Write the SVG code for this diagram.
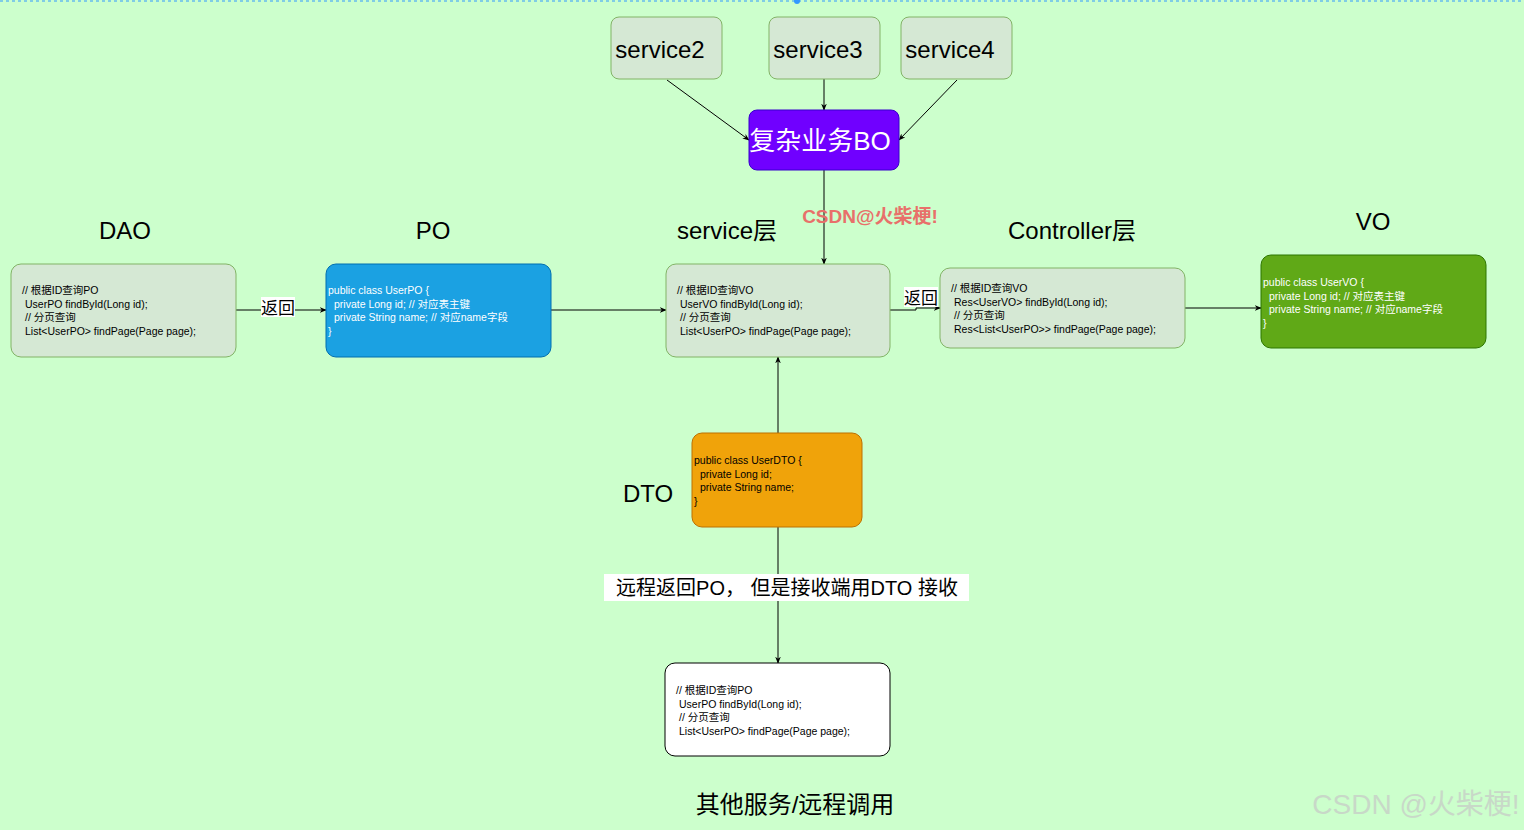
<svg xmlns="http://www.w3.org/2000/svg" width="1524" height="830" viewBox="0 0 1524 830">
<defs>
<marker id="a" viewBox="0 0 10 10" refX="9" refY="5" markerWidth="7" markerHeight="7" orient="auto"><path d="M0,1 L10,5 L0,9 L3,5 Z" fill="#000"/></marker>
<style>
text{font-family:"Liberation Sans","Noto Sans CJK SC",sans-serif}
.g{fill:#d5e8d4;stroke:#82b366;stroke-width:1}
.c{font-size:10.5px}
.w{fill:#fff}
.l{font-size:24px;text-anchor:middle}
.e{stroke:#000;stroke-width:1;fill:none;marker-end:url(#a)}
</style>
</defs>
<rect width="1524" height="830" fill="#ccffcc"/>
<line x1="0" y1="1" x2="1524" y2="1" stroke="#3399ff" stroke-dasharray="3,3"/>
<circle cx="797" cy="1" r="3" fill="#3399ff"/>
<g id="connectors">
<path class="e" d="M667,80 L749,140"/>
<path class="e" d="M824,79 L824,110"/>
<path class="e" d="M957,80 L899,140"/>
<path class="e" d="M824,170 L824,264"/>
<path class="e" d="M236,310 L326,310"/>
<path class="e" d="M551,310 L666,310"/>
<path class="e" d="M890,310 L916,310 L916,308 L940,308"/>
<path class="e" d="M1185,308 L1261,308"/>
<path class="e" d="M778,433 L778,357"/>
<path class="e" d="M778,527 L778,663"/>
<rect x="261" y="297" width="34" height="20" fill="#fff"/>
<text x="278" y="314" font-size="17" text-anchor="middle">返回</text>
<rect x="904" y="287" width="34" height="20" fill="#fff"/>
<text x="921" y="304" font-size="17" text-anchor="middle">返回</text>
<rect x="604" y="574" width="365" height="27" fill="#fff"/>
<text x="787" y="595" font-size="20" text-anchor="middle">远程返回PO， 但是接收端用DTO 接收</text>
</g>
<g id="service2"><rect class="g" x="611" y="17" width="111" height="62" rx="8"/><text x="660" y="58" font-size="24" text-anchor="middle">service2</text></g>
<g id="service3"><rect class="g" x="769" y="17" width="111" height="62" rx="8"/><text x="818" y="58" font-size="24" text-anchor="middle">service3</text></g>
<g id="service4"><rect class="g" x="901" y="17" width="111" height="62" rx="8"/><text x="950" y="58" font-size="24" text-anchor="middle">service4</text></g>
<g id="bo"><rect x="749" y="110" width="150" height="60" rx="8" fill="#7000ff" stroke="#3700cc"/><text x="820" y="150" font-size="26" fill="#fff" text-anchor="middle">复杂业务BO</text></g>
<g id="labels">
<text class="l" x="125" y="239">DAO</text>
<text class="l" x="433" y="239">PO</text>
<text class="l" x="727" y="239">service层</text>
<text class="l" x="1072" y="239">Controller层</text>
<text class="l" x="1373" y="230">VO</text>
<text class="l" x="648" y="502">DTO</text>
<text x="795" y="813" font-size="24" text-anchor="middle">其他服务/远程调用</text>
<text x="870" y="223" font-size="19" font-weight="bold" fill="#e8706a" text-anchor="middle">CSDN@火柴梗!</text>
<text x="1416" y="814" font-size="28" fill="#c8d8c8" text-anchor="middle">CSDN @火柴梗!</text>
</g>
<g id="dao"><rect class="g" x="11" y="264" width="225" height="93" rx="10"/>
<text class="c" x="22" y="294">// 根据ID查询PO<tspan x="25" dy="13.5">UserPO findById(Long id);</tspan><tspan x="25" dy="13.5">// 分页查询</tspan><tspan x="25" dy="13.5">List&lt;UserPO&gt; findPage(Page page);</tspan></text></g>
<g id="po"><rect x="326" y="264" width="225" height="93" rx="10" fill="#1ba1e2" stroke="#006eaf"/>
<text class="c w" x="328" y="294">public class UserPO {<tspan x="334" dy="13.5">private Long id;      // 对应表主键</tspan><tspan x="334" dy="13.5">private String name;  // 对应name字段</tspan><tspan x="328" dy="13.5">}</tspan></text></g>
<g id="service"><rect class="g" x="666" y="264" width="224" height="93" rx="10"/>
<text class="c" x="677" y="294">// 根据ID查询VO<tspan x="680" dy="13.5">UserVO findById(Long id);</tspan><tspan x="680" dy="13.5">// 分页查询</tspan><tspan x="680" dy="13.5">List&lt;UserPO&gt; findPage(Page page);</tspan></text></g>
<g id="controller"><rect class="g" x="940" y="268" width="245" height="80" rx="10"/>
<text class="c" x="951" y="292">// 根据ID查询VO<tspan x="954" dy="13.5">Res&lt;UserVO&gt; findById(Long id);</tspan><tspan x="954" dy="13.5">// 分页查询</tspan><tspan x="954" dy="13.5">Res&lt;List&lt;UserPO&gt;&gt; findPage(Page page);</tspan></text></g>
<g id="vo"><rect x="1261" y="255" width="225" height="93" rx="10" fill="#60a917" stroke="#2d7600"/>
<text class="c w" x="1263" y="286">public class UserVO {<tspan x="1269" dy="13.5">private Long id;      // 对应表主键</tspan><tspan x="1269" dy="13.5">private String name;  // 对应name字段</tspan><tspan x="1263" dy="13.5">}</tspan></text></g>
<g id="dto"><rect x="692" y="433" width="170" height="94" rx="10" fill="#f0a30a" stroke="#bd7000"/>
<text class="c" x="694" y="464">public class UserDTO {<tspan x="700" dy="13.5">private Long id;</tspan><tspan x="700" dy="13.5">private String name;</tspan><tspan x="694" dy="13.5">}</tspan></text></g>
<g id="remote"><rect x="665" y="663" width="225" height="93" rx="10" fill="#fff" stroke="#000"/>
<text class="c" x="676" y="694">// 根据ID查询PO<tspan x="679" dy="13.5">UserPO findById(Long id);</tspan><tspan x="679" dy="13.5">// 分页查询</tspan><tspan x="679" dy="13.5">List&lt;UserPO&gt; findPage(Page page);</tspan></text></g>
</svg>
